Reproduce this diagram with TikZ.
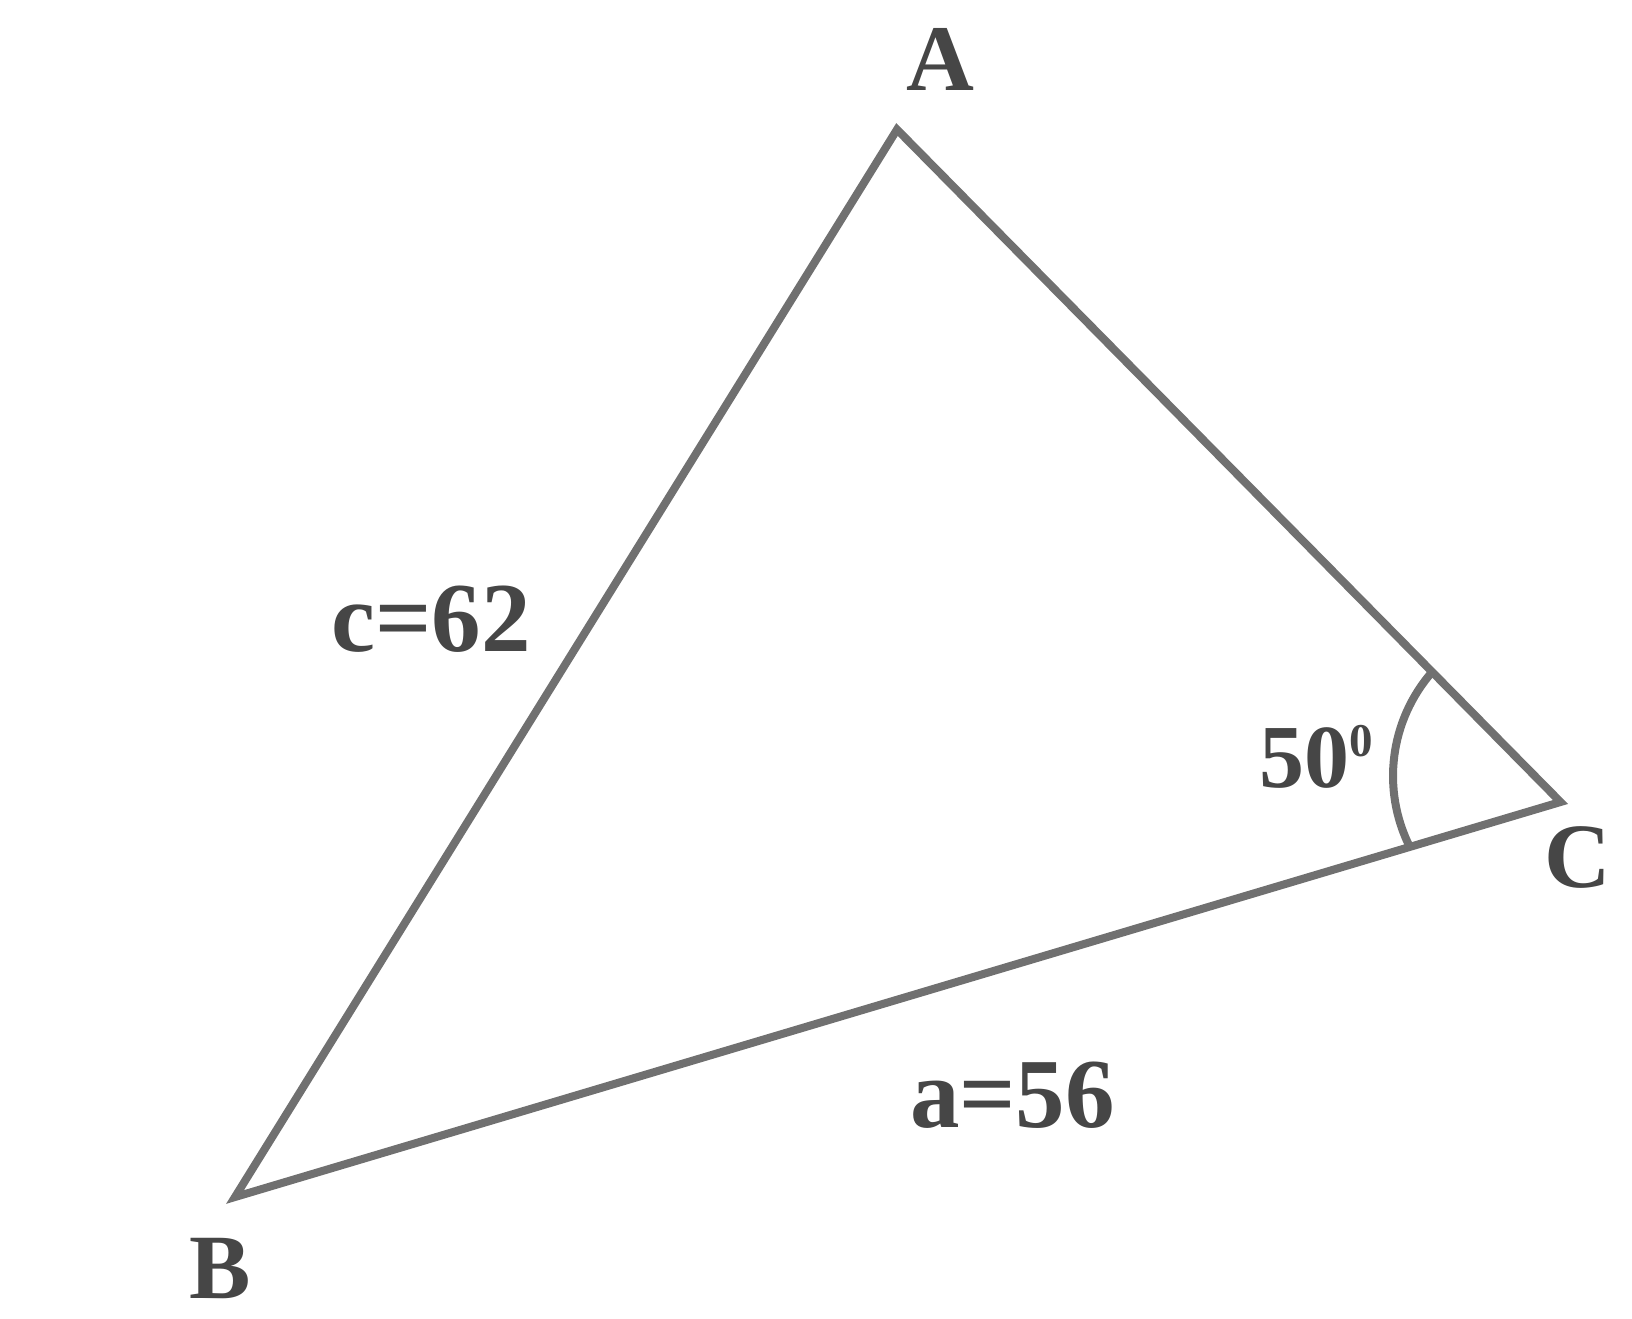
\documentclass[tikz,border=0pt]{standalone}
\usepackage{fontspec}
\setmainfont{Liberation Serif}
\definecolor{linegray}{HTML}{707070}
\definecolor{textgray}{HTML}{464646}
\begin{document}
\begin{tikzpicture}[x=1pt,y=-1pt,
  edge/.style={draw=linegray,line width=8pt,line join=miter},
  anglearc/.style={draw=linegray,line width=8pt},
  lbl/.style={text=textgray,inner sep=0pt,outer sep=0pt,anchor=base,font=\bfseries}]
\useasboundingbox (0,0) rectangle (1632,1318);
\coordinate (A) at (897,129.5);
\coordinate (B) at (235,1197);
\coordinate (C) at (1560.5,802);
\coordinate (O) at (1551,776);
\draw[anglearc] ([shift={(153.3:158)}]O) arc[start angle=153.3,end angle=221.2,radius=158];
\draw[edge] (A) -- (B) -- (C) -- cycle;
\node[lbl] (la) at (940,90) {\fontsize{94}{94}\selectfont A};
\node[lbl] (lb) at (220.5,1298) {\fontsize{92}{92}\selectfont B};
\node[lbl] (lc) at (1578,887) {\fontsize{92}{92}\selectfont C};
\node[lbl] (lsidec) at (431,651) {\fontsize{99}{99}\selectfont c=62};
\node[lbl] (lsidea) at (1012.5,1127) {\fontsize{99}{99}\selectfont a=56};
\node[lbl] (lang) at (1316,787) {\fontsize{90}{90}\selectfont 50\raisebox{31pt}{\fontsize{47}{47}\selectfont 0}};
\end{tikzpicture}
\end{document}
